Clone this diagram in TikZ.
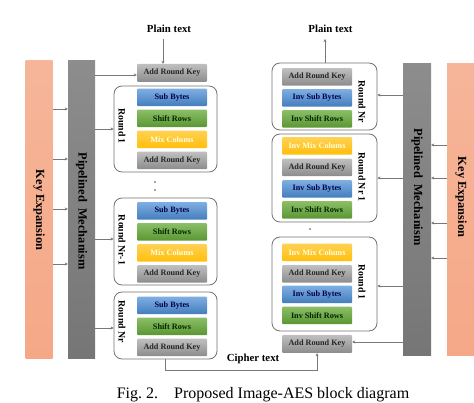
\documentclass[tikz,border=0pt]{standalone}
\usepackage{fontspec}
\setmainfont{Liberation Serif}
\usepackage{tikz}
\usetikzlibrary{arrows.meta,math}
\definecolor{KeyPeach}{RGB}{245,168,135}
\definecolor{PipeGray}{RGB}{128,128,128}
\definecolor{SubBlue}{RGB}{76,142,214}
\definecolor{ShiftGreen}{RGB}{102,170,56}
\definecolor{MixYellow}{RGB}{255,190,10}
\definecolor{KeyGray}{RGB}{164,164,164}
\definecolor{LinkGray}{RGB}{120,120,120}
\tikzset{%
  bar/.style={rectangle,inner sep=0pt,minimum width=27pt},
  keybar/.style={bar,top color=KeyPeach!85!white,bottom color=KeyPeach},
  pipebar/.style={bar,top color=PipeGray!90!white,bottom color=PipeGray!92!black},
  barlabel/.style={rotate=-90,font=\fontsize{12.4}{13}\selectfont\bfseries},
  stage/.style={rectangle,inner sep=0pt,minimum width=70pt,minimum height=17.5pt,
    rounded corners=1pt,font=\fontsize{8.2}{9}\selectfont\bfseries},
  subbytes/.style={stage,top color=SubBlue!72!white,bottom color=SubBlue!88!black,text=blue!30!black},
  shiftrows/.style={stage,top color=ShiftGreen!76!white,bottom color=ShiftGreen!88!black,text=black!85!green},
  mixcols/.style={stage,top color=MixYellow!70!white,bottom color=MixYellow,text=yellow!12!white},
  addkey/.style={stage,top color=KeyGray!70!white,bottom color=KeyGray!85!black,text=black!85},
  roundbox/.style={rectangle,draw=black!55,line width=0.8pt,rounded corners=8pt,fill=white,inner sep=0pt},
  roundlabel/.style={rotate=-90,font=\fontsize{9.8}{10}\selectfont\bfseries},
  heading/.style={font=\fontsize{10.8}{12}\selectfont\bfseries,anchor=base},
  link/.style={draw=LinkGray,line width=0.6pt,-{Stealth[length=3pt,width=3pt]}}
}
\begin{document}
\begin{tikzpicture}[x=1pt,y=-1pt]
    \useasboundingbox (0,0) rectangle (474,403);
    \tikzmath{
      \xl=172;
      \xr=317;
    }
    % bars
    \node[keybar,minimum height=298pt] (keL) at (39,210) {};
    \node[pipebar,minimum height=298pt] (pmL) at (81.5,210) {};
    \node[pipebar,minimum height=292pt,minimum width=28pt] (pmR) at (417,210) {};
    \node[keybar,minimum height=292pt,minimum width=28pt] (keR) at (461,210) {};
    \node[barlabel] at (39,210) {Key Expansion};
    \node[barlabel] at (81.5,211) {Pipelined~~Mechanism};
    \node[barlabel] at (417,187) {Pipelined~~Mechanism};
    \node[barlabel] at (461,197) {Key Expansion};

    % encryption side
    \node[roundbox,minimum width=103pt,minimum height=86pt] (r1L) at (165.5,129) {};
    \node[roundbox,minimum width=103pt,minimum height=87pt] (rn1L) at (165.5,241.5) {};
    \node[roundbox,minimum width=103pt,minimum height=67pt] (rnL) at (165.5,325.5) {};
    \node[roundlabel] at (122,126) {Round 1};
    \node[roundlabel] at (122,240) {Round Nr-1};
    \node[roundlabel] at (122,322) {Round Nr};
    \node[addkey,minimum height=18pt] (ark0) at (\xl,73) {Add Round Key};
    \foreach \n/\k/\l/\y in {sb1/subbytes/Sub Bytes/97.5, sr1/shiftrows/Shift Rows/118.5,
        mc1/mixcols/Mix Colums/139.5, ak1/addkey/Add Round Key/160.5,
        sb2/subbytes/Sub Bytes/211, sr2/shiftrows/Shift Rows/232,
        mc2/mixcols/Mix Colums/253, ak2/addkey/Add Round Key/274,
        sb3/subbytes/Sub Bytes/305.5, sr3/shiftrows/Shift Rows/326.5,
        ak3/addkey/Add Round Key/347.5}
      \node[\k] (\n) at (\xl,\y) {\l};
    \fill[black!70] (155,182) circle (0.8pt) (155,190) circle (0.8pt);

    % decryption side
    \node[roundbox,minimum width=105pt,minimum height=67pt] (rnR) at (324.5,96.5) {};
    \node[roundbox,minimum width=105pt,minimum height=88pt] (rn1R) at (324.5,178) {};
    \node[roundbox,minimum width=105pt,minimum height=94pt] (r1R) at (324.5,284) {};
    \node[roundlabel] at (362,102) {Round Nr};
    \node[roundlabel] at (362,177) {Round Nr 1};
    \node[roundlabel] at (362,282) {Round 1};
    \foreach \n/\k/\l/\y in {akA/addkey/Add Round Key/77, isA/subbytes/Inv Sub Bytes/98,
        irA/shiftrows/Inv Shift Rows/119,
        imB/mixcols/Inv Mix Colums/146, akB/addkey/Add Round Key/167.5,
        isB/subbytes/Inv Sub Bytes/189, irB/shiftrows/Inv Shift Rows/210,
        imC/mixcols/Inv Mix Colums/252.5, akC/addkey/Add Round Key/274,
        isC/subbytes/Inv Sub Bytes/294.5, irC/shiftrows/Inv Shift Rows/315.5}
      \node[\k] (\n) at (\xr,\y) {\l};
    \node[addkey,minimum height=18pt] (arkF) at (\xr,344) {Add Round Key};
    \fill[black!70] (310,229) circle (0.8pt);

    % texts
    \node[heading] (ptL) at (169,33) {Plain text};
    \node[heading] (ptR) at (330.5,33) {Plain text};
    \node[heading] (ctx) at (253,361) {Cipher text};
    \node[anchor=base,font=\fontsize{16}{18}\selectfont] (cap) at (263,399)
      {Fig.~2.\quad Proposed Image-AES block diagram};

    % links
    \foreach \y in {109,159,209,264}
      \draw[link] (keL.east |- 0,\y) -- (pmL.west |- 0,\y);
    \draw[link] (pmL.east |- 0,75) -- (ark0.west |- 0,75);
    \foreach \b/\y in {r1L/129, rn1L/239, rnL/328}
      \draw[link] (pmL.east |- 0,\y) -- (\b.west |- 0,\y);
    \foreach \y in {145,178,223,258}
      \draw[link] (keR.west |- 0,\y) -- (pmR.east |- 0,\y);
    \foreach \b/\y in {rnR/95, rn1R/178, r1R/286, arkF/342}
      \draw[link] (pmR.west |- 0,\y) -- (\b.east |- 0,\y);
    \draw[link] ([xshift=-9pt]ark0.north |- 0,39) -- ([xshift=-9pt]ark0.north);
    \draw[link] ([xshift=0.5pt]rnR.north) -- ([xshift=0.5pt]rnR.north |- 0,39);
    \draw[link] (rnL.south) -- ++(0,11) -| (arkF.south);
  \end{tikzpicture}
\end{document}
